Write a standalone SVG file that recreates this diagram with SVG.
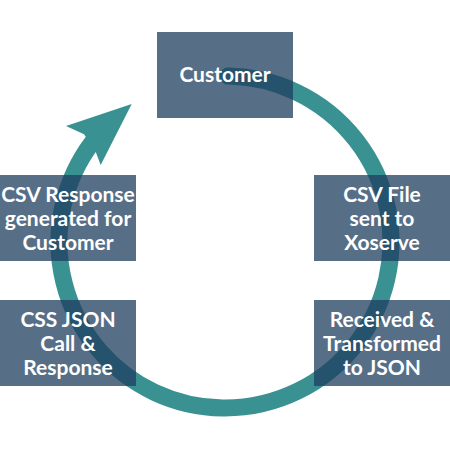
<svg xmlns="http://www.w3.org/2000/svg" width="450" height="450" viewBox="0 0 450 450">
<style>
.box{fill:#1f3d5f;fill-opacity:0.75}
.t{font-family:Lato,"Liberation Sans",sans-serif;font-weight:700;font-size:21px;fill:#fff;text-anchor:middle}
.ring{fill:none;stroke:#3a9192;stroke-width:17}
</style>
<rect width="450" height="450" fill="#fff"/>
<g id="connectors">
<path class="ring" stroke-linecap="round" d="M228,76.03 A166,166 0 1 1 92.4,142.1"/>
<path class="ring" d="M95,146.8 L92.4,142.1" stroke-linecap="butt"/>
<polygon fill="#3a9192" points="131.7,104 66,126 84,134.3 95,150 100.7,165"/>
</g>
<g id="customer">
<rect class="box" x="157" y="32" width="136" height="86"/>
<text class="t" x="225" y="82">Customer</text>
</g>
<g id="csv-response">
<rect class="box" x="0" y="175" width="136" height="86"/>
<text class="t" x="68" y="202">CSV Response</text>
<text class="t" x="68" y="226">generated for</text>
<text class="t" x="68" y="250">Customer</text>
</g>
<g id="csv-file">
<rect class="box" x="314" y="175" width="136" height="86"/>
<text class="t" x="382" y="202">CSV File</text>
<text class="t" x="382" y="226">sent to</text>
<text class="t" x="382" y="250">Xoserve</text>
</g>
<g id="css-json">
<rect class="box" x="0" y="300" width="136" height="86"/>
<text class="t" x="68" y="326.5">CSS JSON</text>
<text class="t" x="68" y="350.5">Call &amp;</text>
<text class="t" x="68" y="374.5">Response</text>
</g>
<g id="received">
<rect class="box" x="314" y="300" width="136" height="86"/>
<text class="t" x="382" y="326.5">Received &amp;</text>
<text class="t" x="382" y="350.5">Transformed</text>
<text class="t" x="382" y="374.5">to JSON</text>
</g>
</svg>
